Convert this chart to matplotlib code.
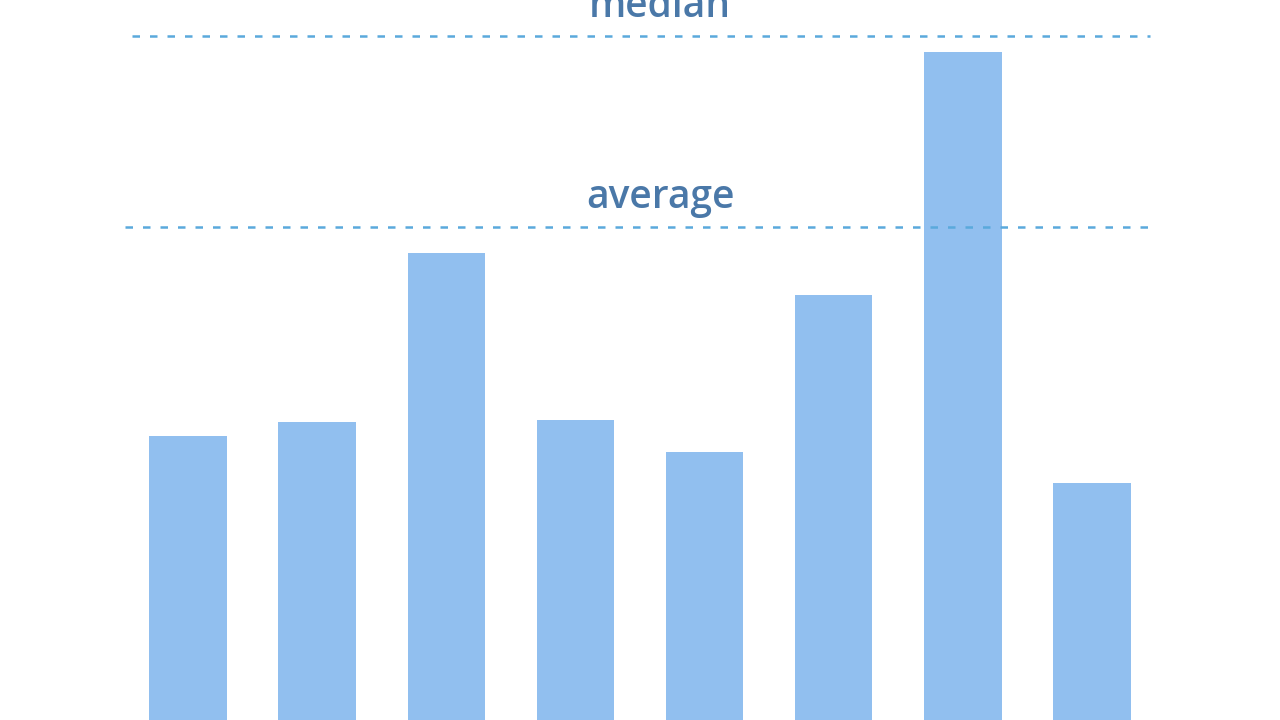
import numpy as np
import matplotlib
matplotlib.use('Agg')
import matplotlib.pyplot as plt

# bar heights (arbitrary units, axis runs 0..720)
categories = ["A", "B", "C", "D", "E", "F", "G", "H"]
values = [284, 298, 467, 300, 268, 425, 668, 237]
median_level = 684
average_level = 493

bar_color = "#91bfef"
line_color = "#5aa9dc"
text_color = "#4a78a8"

fig = plt.figure(figsize=(12.8, 7.2), dpi=100, facecolor='white')
ax = fig.add_axes([0, 0, 1, 1])

x = np.arange(len(categories))
ax.bar(x, values, width=0.6, color=bar_color, edgecolor='none')

ax.set_xlim(-1.456, 8.456)
ax.set_ylim(0, 720)

ax.hlines(median_level, -0.434, 7.449, colors=line_color, linestyles=(0, (3, 4)), linewidth=1.8)
ax.hlines(average_level, -0.488, 7.472, colors=line_color, linestyles=(0, (3, 4)), linewidth=1.8)

ax.text(3.655, 703, "median", ha='center', va='baseline', fontsize=28,
        fontweight='semibold', family='Open Sans', color=text_color)
ax.text(3.655, 512, "average", ha='center', va='baseline', fontsize=28,
        fontweight='semibold', family='Open Sans', color=text_color)

ax.axis('off')
fig.savefig("out.png", dpi=100, facecolor='white')
